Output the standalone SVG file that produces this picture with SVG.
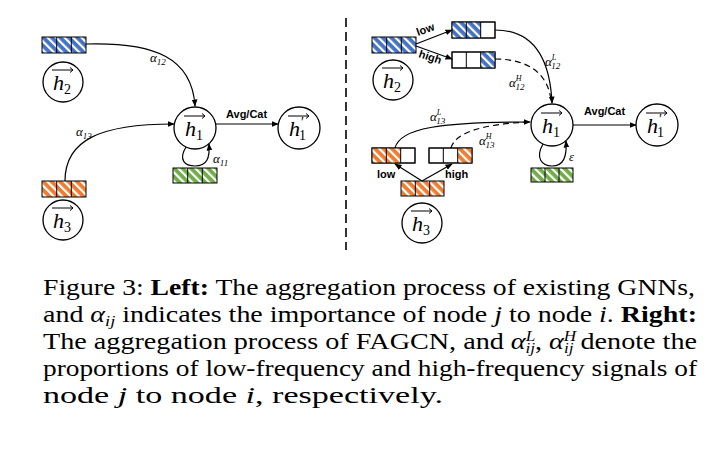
<svg xmlns="http://www.w3.org/2000/svg" width="728" height="452" viewBox="0 0 728 452">
<style>
.c{fill:#fff;stroke:#000;stroke-width:1.3}
.e{stroke:#000;stroke-width:1.2;fill:none}
.d{stroke-dasharray:6,4}
.m{font-family:"Liberation Serif",serif;font-style:italic;font-size:13px}
.h{font-family:"Liberation Serif",serif;font-style:italic;font-size:22px}
.s{font-family:"Liberation Serif",serif;font-style:normal;font-size:14px}
.b{font-family:"Liberation Sans",Arial,sans-serif;font-weight:bold;font-size:11px}
.cap{font-family:"Liberation Serif","Times New Roman",serif;font-size:23px}
.bx{stroke:#000;stroke-width:1}
.va{stroke:#000;stroke-width:1;fill:none}
</style>
<defs>
<marker id="a" viewBox="0 0 10 10" refX="9" refY="5" markerWidth="6" markerHeight="6" orient="auto"><path d="M0,1 L10,5 L0,9 z" fill="#000"/></marker>
<pattern id="pb" width="6" height="6" patternUnits="userSpaceOnUse" patternTransform="rotate(-45)"><rect width="6" height="6" fill="#4472C4"/><rect width="2.2" height="6" fill="#fff"/></pattern>
<pattern id="po" width="6" height="6" patternUnits="userSpaceOnUse" patternTransform="rotate(-45)"><rect width="6" height="6" fill="#ED7D31"/><rect width="2.2" height="6" fill="#fff"/></pattern>
<pattern id="pg" width="6" height="6" patternUnits="userSpaceOnUse" patternTransform="rotate(-45)"><rect width="6" height="6" fill="#70AD47"/><rect width="2.2" height="6" fill="#fff"/></pattern>
</defs>

<g id="divider"><line x1="346" y1="18" x2="346" y2="250" stroke="#000" stroke-width="1.6" stroke-dasharray="9,5"/></g>

<g id="L-h2"><circle class="c" cx="63" cy="82" r="20"/><text class="h" x="53" y="90">h<tspan class="s" dy="4">2</tspan></text><path class="va" d="M52,70 H73 M70,67.5 L73,70 L70,72.5"/></g>
<g id="L-h3"><circle class="c" cx="63" cy="220" r="20"/><text class="h" x="53" y="228">h<tspan class="s" dy="4">3</tspan></text><path class="va" d="M52,208 H73 M70,205.5 L73,208 L70,210.5"/></g>
<g id="L-h1"><circle class="c" cx="195" cy="128" r="21"/><text class="h" x="185" y="136">h<tspan class="s" dy="4">1</tspan></text><path class="va" d="M184,116 H205 M202,113.5 L205,116 L202,118.5"/></g>
<g id="L-h1p"><circle class="c" cx="299" cy="128" r="21"/><text class="h" x="289" y="136">h<tspan class="s" dx="1" dy="-9">′</tspan><tspan class="s" dx="-5" dy="13">1</tspan></text><path class="va" d="M288,116 H309 M306,113.5 L309,116 L306,118.5"/></g>
<g id="L-blue"><rect class="bx" x="42" y="37" width="44" height="16" fill="url(#pb)"/><path class="bx" d="M56.7,37 V53 M71.3,37 V53"/></g>
<g id="L-orange"><rect class="bx" x="42" y="181" width="44" height="16" fill="url(#po)"/><path class="bx" d="M56.7,181 V197 M71.3,181 V197"/></g>
<g id="L-green"><rect class="bx" x="173" y="168" width="44" height="15" fill="url(#pg)"/><path class="bx" d="M187.7,168 V183 M202.3,168 V183"/></g>

<g id="L-edges">
<path class="e" marker-end="url(#a)" d="M86,44 C155,42 192,58 195,106"/>
<path class="e" marker-end="url(#a)" d="M65,181 C65,140 100,124 174,124"/>
<path class="e" marker-end="url(#a)" d="M216,124 L278,124"/>
<path class="e" marker-end="url(#a)" d="M186,147 C178,160 185,166 195,166 C207,166 210,158 209,144"/>
</g>
<g id="L-labels">
<text class="m" x="150" y="62">α<tspan font-size="9" dy="3">12</tspan></text>
<text class="m" x="76" y="136">α<tspan font-size="9" dy="3">13</tspan></text>
<text class="m" x="213" y="163">α<tspan font-size="9" dy="3">11</tspan></text>
<text class="b" x="226" y="118">Avg/Cat</text>
</g>

<g id="R-h2"><circle class="c" cx="393" cy="80" r="20"/><text class="h" x="383" y="88">h<tspan class="s" dy="4">2</tspan></text><path class="va" d="M382,68 H403 M400,65.5 L403,68 L400,70.5"/></g>
<g id="R-h3"><circle class="c" cx="422" cy="223" r="20"/><text class="h" x="412" y="231">h<tspan class="s" dy="4">3</tspan></text><path class="va" d="M411,211 H432 M429,208.5 L432,211 L429,213.5"/></g>
<g id="R-h1"><circle class="c" cx="552" cy="125" r="21"/><text class="h" x="542" y="133">h<tspan class="s" dy="4">1</tspan></text><path class="va" d="M541,113 H562 M559,110.5 L562,113 L559,115.5"/></g>
<g id="R-h1p"><circle class="c" cx="657" cy="125" r="21"/><text class="h" x="647" y="133">h<tspan class="s" dx="1" dy="-9">′</tspan><tspan class="s" dx="-5" dy="13">1</tspan></text><path class="va" d="M646,113 H667 M664,110.5 L667,113 L664,115.5"/></g>
<g id="R-blue"><rect class="bx" x="372" y="37" width="44" height="16" fill="url(#pb)"/><path class="bx" d="M386.7,37 V53 M401.3,37 V53"/></g>
<g id="R-blue-low"><rect class="bx" x="452" y="22" width="43" height="16" fill="#fff"/><rect x="452" y="22" width="28.7" height="16" fill="url(#pb)"/><rect class="bx" x="452" y="22" width="43" height="16" fill="none"/><path class="bx" d="M466.3,22 V38 M480.7,22 V38"/></g>
<g id="R-blue-high"><rect class="bx" x="452" y="52" width="43" height="16" fill="#fff"/><rect x="480.7" y="52" width="14.3" height="16" fill="url(#pb)"/><rect class="bx" x="452" y="52" width="43" height="16" fill="none"/><path class="bx" d="M466.3,52 V68 M480.7,52 V68"/></g>
<g id="R-orange-low"><rect class="bx" x="372" y="148" width="43" height="15" fill="#fff"/><rect x="372" y="148" width="28.7" height="15" fill="url(#po)"/><rect class="bx" x="372" y="148" width="43" height="15" fill="none"/><path class="bx" d="M386.3,148 V163 M400.7,148 V163"/></g>
<g id="R-orange-high"><rect class="bx" x="429" y="148" width="43" height="15" fill="#fff"/><rect x="457.7" y="148" width="14.3" height="15" fill="url(#po)"/><rect class="bx" x="429" y="148" width="43" height="15" fill="none"/><path class="bx" d="M443.3,148 V163 M457.7,148 V163"/></g>
<g id="R-orange"><rect class="bx" x="401" y="181" width="43" height="15" fill="url(#po)"/><path class="bx" d="M415.3,181 V196 M429.7,181 V196"/></g>
<g id="R-green"><rect class="bx" x="531" y="168" width="42" height="14" fill="url(#pg)"/><path class="bx" d="M545,168 V182 M559,168 V182"/></g>

<g id="R-edges">
<path class="e" marker-end="url(#a)" d="M416,44 L452,30"/>
<path class="e" marker-end="url(#a)" d="M416,46 L452,59"/>
<path class="e" marker-end="url(#a)" d="M495,30 C535,30 550,60 552,103"/>
<path class="e d" d="M495,59 C530,59 548,75 551,100"/>
<path class="e" marker-end="url(#a)" d="M422,181 L395,164"/>
<path class="e" marker-end="url(#a)" d="M422,181 L452,164"/>
<path class="e" marker-end="url(#a)" d="M395,148 C400,128 440,122 530,122"/>
<path class="e d" d="M451,148 C455,132 485,124 528,122"/>
<path class="e" marker-end="url(#a)" d="M573,125 L636,125"/>
<path class="e" marker-end="url(#a)" d="M543,144 C535,158 542,166 552,166 C564,166 567,156 566,141"/>
</g>
<g id="R-labels">
<text class="b" transform="translate(418,36) rotate(-20)">low</text>
<text class="b" transform="translate(418,57) rotate(18)">high</text>
<text class="b" x="377" y="178">low</text>
<text class="b" x="445" y="178">high</text>
<text class="m" x="545" y="66">α<tspan font-size="8" dy="-6">L</tspan><tspan font-size="9" dx="-5" dy="9">12</tspan></text>
<text class="m" x="509" y="87">α<tspan font-size="8" dy="-6">H</tspan><tspan font-size="9" dx="-6" dy="9">12</tspan></text>
<text class="m" x="430" y="121">α<tspan font-size="8" dy="-6">L</tspan><tspan font-size="9" dx="-5" dy="9">13</tspan></text>
<text class="m" x="479" y="145">α<tspan font-size="8" dy="-6">H</tspan><tspan font-size="9" dx="-6" dy="9">13</tspan></text>
<text class="m" x="569" y="161" font-size="15">ε</text>
<text class="b" x="584" y="115">Avg/Cat</text>
</g>

<g id="caption">
<text class="cap" x="43" y="295" textLength="652" lengthAdjust="spacingAndGlyphs">Figure 3: <tspan font-weight="bold">Left:</tspan> The aggregation process of existing GNNs,</text>
<text class="cap" x="43" y="322" textLength="654" lengthAdjust="spacingAndGlyphs">and <tspan font-style="italic">α<tspan font-size="15" dy="4">ij</tspan></tspan><tspan dy="-4"> indicates the importance of node </tspan><tspan font-style="italic">j</tspan> to node <tspan font-style="italic">i</tspan>. <tspan font-weight="bold">Right:</tspan></text>
<text class="cap" x="43" y="349" textLength="654" lengthAdjust="spacingAndGlyphs">The aggregation process of FAGCN, and <tspan font-style="italic">α<tspan font-size="14" dy="-8">L</tspan><tspan font-size="14" dx="-8" dy="12">ij</tspan></tspan><tspan dy="-4">,  </tspan><tspan font-style="italic">α<tspan font-size="14" dy="-8">H</tspan><tspan font-size="14" dx="-10" dy="12">ij</tspan></tspan><tspan dy="-4">  denote the</tspan></text>
<text class="cap" x="43" y="376" textLength="654" lengthAdjust="spacingAndGlyphs">proportions of low-frequency and high-frequency signals of</text>
<text class="cap" x="43" y="403" textLength="400" lengthAdjust="spacingAndGlyphs">node <tspan font-style="italic">j</tspan> to node <tspan font-style="italic">i</tspan>, respectively.</text>
</g>
</svg>
